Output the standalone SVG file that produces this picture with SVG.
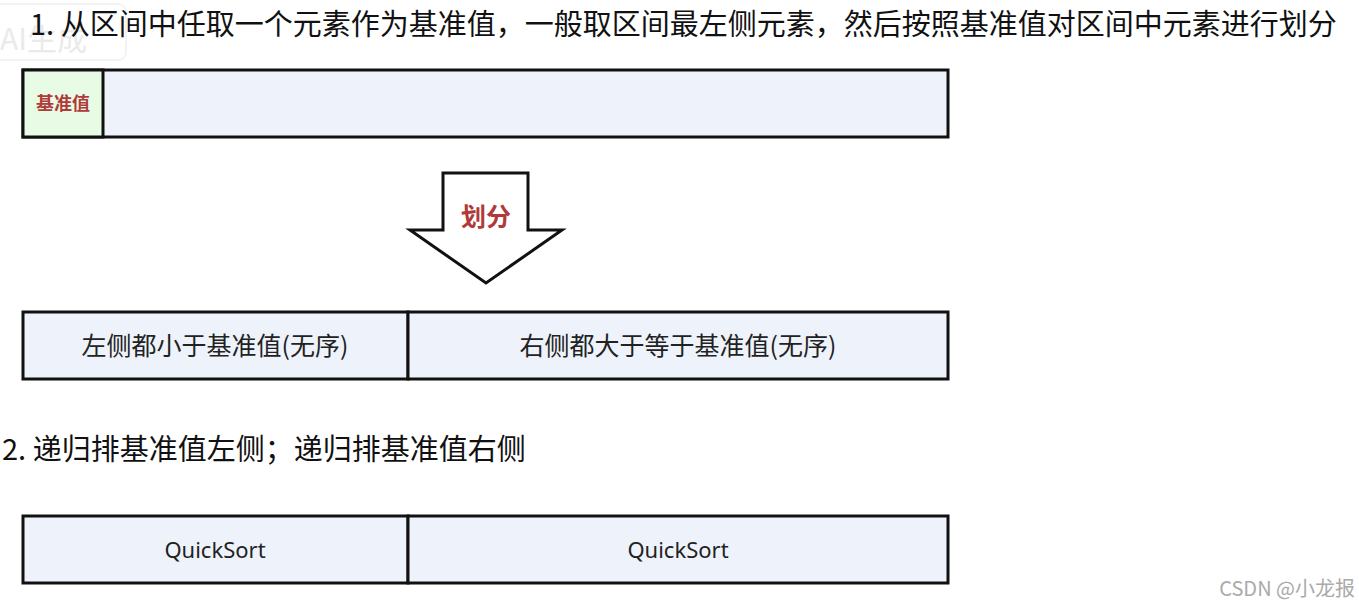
<svg xmlns="http://www.w3.org/2000/svg" width="1359" height="612" viewBox="0 0 1359 612">
<style>
.t{font-family:"Noto Sans CJK SC","Noto Sans",sans-serif;fill:#111}
.b{fill:#eef3fb;stroke:#111;stroke-width:3}
.c{font-family:"Noto Sans CJK SC","Noto Sans",sans-serif;font-size:25px;fill:#222;text-anchor:middle}
.q{font-family:"Noto Sans","Noto Sans CJK SC",sans-serif;font-size:22px;fill:#222;text-anchor:middle}
.r{font-family:"Noto Sans CJK SC",sans-serif;fill:#b03a3a;font-weight:bold;text-anchor:middle}
</style>
<rect width="1359" height="612" fill="#fff"/>
<rect x="-10" y="4" width="136" height="56" rx="8" fill="none" stroke="#f0f0f0" stroke-width="1.5"/>
<text x="0" y="50" font-family="Noto Sans CJK SC,sans-serif" font-size="30" fill="#eaeaea">AI生成</text>
<text class="t" x="30" y="35" font-size="29">1. 从区间中任取一个元素作为基准值，一般取区间最左侧元素，然后按照基准值对区间中元素进行划分</text>
<g id="node-pivot-row">
<rect class="b" x="23" y="70" width="925" height="67"/>
<rect x="23" y="70" width="80" height="67" fill="#e8fbe5" stroke="#111" stroke-width="3"/>
<text class="r" x="63" y="110" font-size="18">基准值</text>
</g>
<g id="connectors">
<path d="M443 173 H528 V230 H562 L486 283 L410 230 H443 Z" fill="#fff" stroke="#111" stroke-width="3"/>
<text class="r" x="486" y="226" font-size="25">划分</text>
</g>
<g id="node-partition">
<rect class="b" x="23" y="312" width="385" height="67"/>
<rect class="b" x="408" y="312" width="540" height="67"/>
<text class="c" x="215" y="355">左侧都小于基准值(无序)</text>
<text class="c" x="678" y="355">右侧都大于等于基准值(无序)</text>
</g>
<text class="t" x="2" y="460" font-size="29">2. 递归排基准值左侧；递归排基准值右侧</text>
<g id="node-quicksort">
<rect class="b" x="23" y="516" width="385" height="67"/>
<rect class="b" x="408" y="516" width="540" height="67"/>
<text class="q" x="215" y="558">QuickSort</text>
<text class="q" x="678" y="558">QuickSort</text>
</g>
<text x="1355" y="596" text-anchor="end" font-family="Noto Sans CJK SC,sans-serif" font-size="20" fill="#aaa">CSDN @小龙报</text>
</svg>
